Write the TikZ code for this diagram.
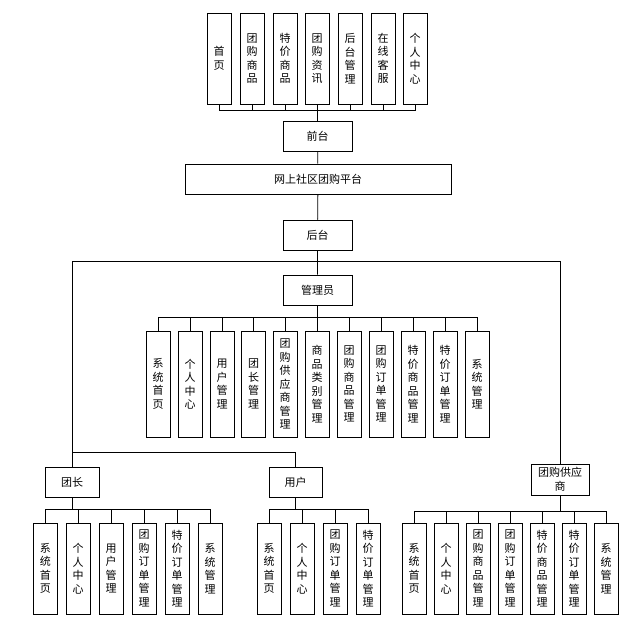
\documentclass[tikz,border=0pt]{standalone}
\usepackage{fontspec}
\setmainfont{Noto Sans CJK SC}
\begin{document}
\begin{tikzpicture}[x=1pt,y=-1pt,
  box/.style={draw,line width=0.8pt,inner sep=1pt,font=\fontsize{11}{13.5}\selectfont,align=center},
  vbox/.style={box,minimum width=24pt},
  ln/.style={line width=0.8pt}]
\useasboundingbox (0,0) rectangle (639,617);
% top level
\node[box,minimum width=69pt,minimum height=30pt] (qt) at (317.5,136) {前台};
\node[box,minimum width=266pt,minimum height=30pt] (pt) at (318,179) {网上社区团购平台};
\node[box,minimum width=69pt,minimum height=30pt] (ht) at (317.5,235) {后台};
\node[box,minimum width=69pt,minimum height=30pt] (gly) at (317.5,290) {管理员};
\node[box,minimum width=54pt,minimum height=30pt] (tz) at (72,482) {团长};
\node[box,minimum width=53pt,minimum height=30pt] (yh) at (295.5,482) {用户};
\node[box,minimum width=58pt,minimum height=31pt] (gys) at (560,479.5) {团购供应\\商};
\draw[ln] (qt) -- (pt) -- (ht) -- (gly);
\coordinate (R) at (560,261);
\coordinate (J) at (72,452);
\draw[ln] (tz.north) |- (R) -- (gys.north);
\draw[ln] (J) -| (yh.north);
% front children
\coordinate (tb) at (317.5,110);
\foreach \x/\t [count=\i] in {219/{首\\页},252/{团\\购\\商\\品},285/{特\\价\\商\\品},317/{团\\购\\资\\讯},350/{后\\台\\管\\理},383/{在\\线\\客\\服},415/{个\\人\\中\\心}}{
  \node[vbox,minimum height=91pt] (t\i) at (\x,58.5) {\t};
  \draw[ln] (t\i.south) |- (tb);
}
\draw[ln] (tb) -- (qt.north);
% admin children
\coordinate (ab) at (317.5,317);
\foreach \x/\t [count=\i] in {158/{系\\统\\首\\页},190/{个\\人\\中\\心},222/{用\\户\\管\\理},253.5/{团\\长\\管\\理},285/{团\\购\\供\\应\\商\\管\\理},317/{商\\品\\类\\别\\管\\理},349/{团\\购\\商\\品\\管\\理},381/{团\\购\\订\\单\\管\\理},413/{特\\价\\商\\品\\管\\理},445/{特\\价\\订\\单\\管\\理},477/{系\\统\\管\\理}}{
  \node[vbox,minimum height=106pt] (a\i) at (\x,384) {\t};
  \draw[ln] (a\i.north) |- (ab);
}
\draw[ln] (gly.south) -- (ab);
% tuanzhang children
\coordinate (zb) at (72,509);
\foreach \x/\t [count=\i] in {45.4/{系\\统\\首\\页},78/{个\\人\\中\\心},111/{用\\户\\管\\理},144/{团\\购\\订\\单\\管\\理},177/{特\\价\\订\\单\\管\\理},210/{系\\统\\管\\理}}{
  \node[vbox,minimum height=91pt] (z\i) at (\x,568.5) {\t};
  \draw[ln] (z\i.north) |- (zb);
}
\draw[ln] (tz.south) -- (zb);
% user children
\coordinate (ub) at (295.5,509);
\foreach \x/\t [count=\i] in {269/{系\\统\\首\\页},302/{个\\人\\中\\心},335/{团\\购\\订\\单\\管\\理},368/{特\\价\\订\\单\\管\\理}}{
  \node[vbox,minimum height=91pt] (u\i) at (\x,568.5) {\t};
  \draw[ln] (u\i.north) |- (ub);
}
\draw[ln] (yh.south) -- (ub);
% supplier children
\coordinate (sb) at (560,511);
\foreach \x/\t [count=\i] in {414/{系\\统\\首\\页},446/{个\\人\\中\\心},478/{团\\购\\商\\品\\管\\理},510/{团\\购\\订\\单\\管\\理},542/{特\\价\\商\\品\\管\\理},574/{特\\价\\订\\单\\管\\理},606/{系\\统\\管\\理}}{
  \node[vbox,minimum height=91pt] (s\i) at (\x,568.5) {\t};
  \draw[ln] (s\i.north) |- (sb);
}
\draw[ln] (gys.south) -- (sb);
\end{tikzpicture}
\end{document}
